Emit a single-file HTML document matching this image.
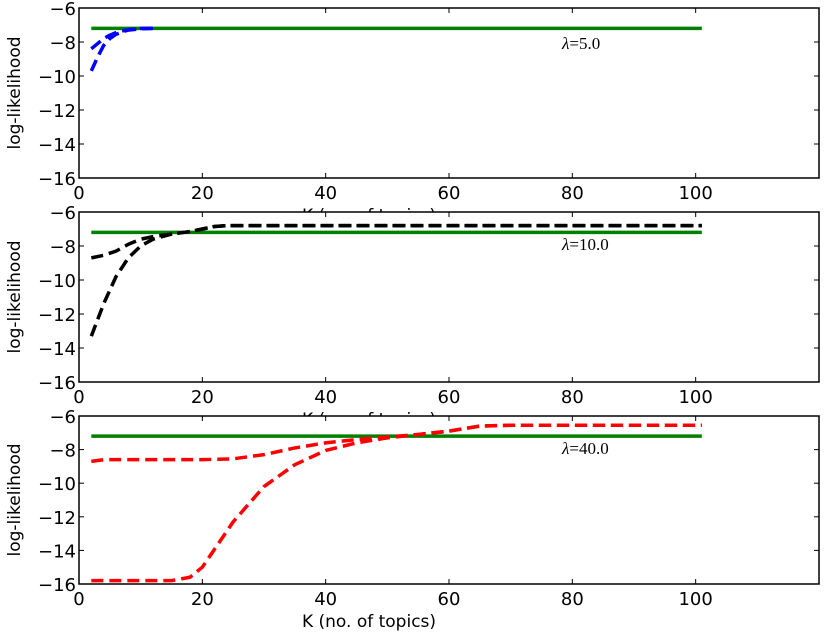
<!DOCTYPE html>
<html><head><meta charset="utf-8"><style>
html,body{margin:0;padding:0;background:#fff;}
svg{display:block;font-family:"DejaVu Sans","Liberation Sans",sans-serif;}
</style></head><body>
<svg id="chart" width="828" height="641"></svg>
<script>
// data
const greenY = [-7.2,-7.2];
const greenK = [2,101];
const blueK = [2,3,4,5,6,7,8,10,12];
const blueA = [-9.7,-8.9,-8.2,-7.8,-7.55,-7.4,-7.3,-7.22,-7.2];
const blueB = [-8.4,-8.1,-7.8,-7.6,-7.45,-7.35,-7.28,-7.2,-7.2];
const blackK = [2,4,6,8,10,12,15,18,20,22,24,30,40,60,80,101];
const blackA = [-8.7,-8.55,-8.3,-7.9,-7.6,-7.45,-7.3,-7.15,-7.0,-6.85,-6.8,-6.8,-6.8,-6.8,-6.8,-6.8];
const blackB = [-13.3,-11.4,-9.8,-8.7,-8.0,-7.6,-7.3,-7.15,-7.0,-6.85,-6.8,-6.8,-6.8,-6.8,-6.8,-6.8];
const redK = [2,4,10,15,18,20,25,30,35,40,45,50,55,60,65,70,80,90,101];
const redA = [-8.7,-8.6,-8.6,-8.6,-8.6,-8.6,-8.55,-8.3,-7.9,-7.6,-7.4,-7.25,-7.1,-6.9,-6.6,-6.55,-6.55,-6.55,-6.55];
const redB = [-15.8,-15.8,-15.8,-15.8,-15.6,-15.0,-12.3,-10.2,-8.9,-8.05,-7.6,-7.3,-7.1,-6.9,-6.6,-6.55,-6.55,-6.55,-6.55];
const yTicks = [-6,-8,-10,-12,-14,-16];
const xTicks = [0,20,40,60,80,100];
const panelLabels = ["λ=5.0","λ=10.0","λ=40.0"];

const svg = document.getElementById('chart');
const NS = 'http://www.w3.org/2000/svg';
function mk(tag, attrs){const e=document.createElementNS(NS,tag);for(const k in attrs)e.setAttribute(k,attrs[k]);svg.appendChild(e);return e;}
const X0=79, XW=740;
const xs = k => X0 + k/120*XW;
const panels=[{top:8,bot:178},{top:212,bot:382},{top:416,bot:584}];
const series=[
 [[blueK,blueA,'#0000ff'],[blueK,blueB,'#0000ff']],
 [[blackK,blackA,'#000'],[blackK,blackB,'#000']],
 [[redK,redA,'#ff0000'],[redK,redB,'#ff0000']]
];
panels.forEach((p,i)=>{
  const ys = v => p.top + (-6 - v)/10*(p.bot-p.top);
  const xl = mk('text',{x:X0+XW/2-80,y:p.bot+43,'font-size':17,'text-anchor':'middle'});
  xl.textContent='K (no. of topics)';
  
  
  const bg = mk('rect',{x:X0,y:p.top,width:XW,height:p.bot-p.top,fill:'#fff'});
  
  
  const g = mk('path',{d:'M'+greenK.map((k,j)=>xs(k)+','+ys(greenY[j])).join('L'),stroke:'#008000','stroke-width':3.5,fill:'none'});
  
  
  series[i].forEach(([K,V,c],j)=>{
    const l = mk('path',{d:'M'+K.map((k,n)=>xs(k)+','+ys(V[n])).join('L'),stroke:c,'stroke-width':3.5,fill:'none','stroke-dasharray':'12,6','stroke-linejoin':'round'});
    
    
  });
  const fr = mk('rect',{x:X0,y:p.top,width:XW,height:p.bot-p.top,fill:'none',stroke:'#000','stroke-width':1.5});
  
  
  yTicks.forEach(t=>{
    const y=ys(t);
    mk('line',{x1:X0,x2:X0+5,y1:y,y2:y,stroke:'#000'});
    mk('line',{x1:X0+XW-5,x2:X0+XW,y1:y,y2:y,stroke:'#000'});
    const tl = mk('text',{x:X0-3,y:y+7,'font-size':18,'text-anchor':'end'});
    tl.textContent = '\u2212'+Math.abs(t);
    
    
  });
  xTicks.forEach(t=>{
    const x=xs(t);
    mk('line',{x1:x,x2:x,y1:p.bot,y2:p.bot-5,stroke:'#000'});
    mk('line',{x1:x,x2:x,y1:p.top,y2:p.top+5,stroke:'#000'});
    const tl = mk('text',{x:x,y:p.bot+21,'font-size':18,'text-anchor':'middle'});
    tl.textContent=t;
    
    
  });
  const yl = mk('text',{x:0,y:0,'font-size':17,'text-anchor':'middle',transform:'translate(20,'+((p.top+p.bot)/2)+') rotate(-90)'});
  yl.textContent='log-likelihood';
  
  
  const lab = mk('text',{x:562,y:p.top+(i===0?41:38),'font-size':17,'font-family':'Liberation Serif, serif'});
  lab.innerHTML='<tspan font-style="italic">λ</tspan>'+panelLabels[i].slice(1);
  
  
});
</script>
</body></html>
